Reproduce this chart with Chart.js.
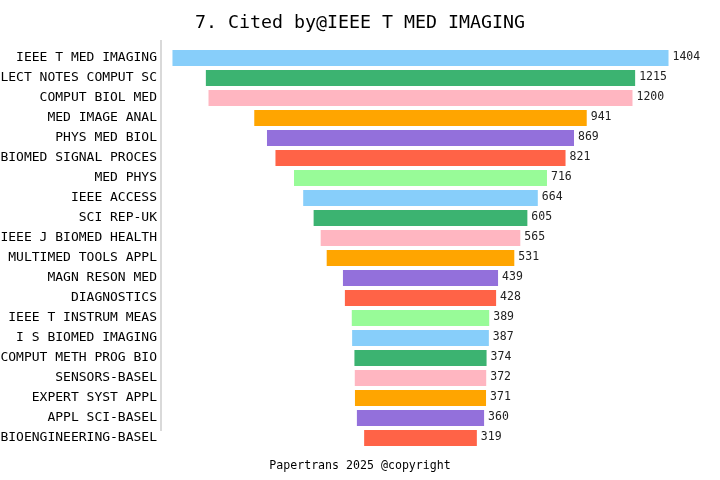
<!DOCTYPE html>
<html>
<head>
<meta charset="utf-8">
<script src="https://cdn.jsdelivr.net/npm/chart.js@4/dist/chart.umd.min.js"></script>
<style>
  html, body { margin: 0; padding: 0; background: #fff; }
  #wrap { width: 720px; height: 480px; }
</style>
</head>
<body>
<div id="wrap"><canvas id="funnel"></canvas></div>
<script>
const journals = [
    'IEEE T MED IMAGING', 'LECT NOTES COMPUT SC', 'COMPUT BIOL MED', 'MED IMAGE ANAL',
    'PHYS MED BIOL', 'BIOMED SIGNAL PROCES', 'MED PHYS', 'IEEE ACCESS', 'SCI REP-UK',
    'IEEE J BIOMED HEALTH', 'MULTIMED TOOLS APPL', 'MAGN RESON MED', 'DIAGNOSTICS',
    'IEEE T INSTRUM MEAS', 'I S BIOMED IMAGING', 'COMPUT METH PROG BIO', 'SENSORS-BASEL',
    'EXPERT SYST APPL', 'APPL SCI-BASEL', 'BIOENGINEERING-BASEL'
];
const citedBy = [1404, 1215, 1200, 941, 869, 821, 716, 664, 605, 565, 531, 439, 428, 389, 387, 374, 372, 371, 360, 319];

const palette = ['#87CEFA', '#3CB371', '#FFB6C1', '#FFA500', '#9370DB', '#FF6347', '#98FB98'];
const mono = "'DejaVu Sans Mono', monospace";

// bars are centred on zero so the chart reads like a funnel
const spans = citedBy.map(v => [-v / 2, v / 2]);

const valueLabels = {
    id: 'valueLabels',
    afterDatasetsDraw(chart) {
        const ctx = chart.ctx;
        const meta = chart.getDatasetMeta(0);
        ctx.save();
        ctx.font = '11.5px ' + mono;
        ctx.fillStyle = '#222';
        ctx.textAlign = 'left';
        ctx.textBaseline = 'middle';
        meta.data.forEach((bar, i) => {
            ctx.fillText(String(citedBy[i]), bar.x + 4, bar.y - 1);
        });
        ctx.restore();
    }
};

const leftSpine = {
    id: 'leftSpine',
    beforeDatasetsDraw(chart) {
        const { ctx, chartArea } = chart;
        ctx.save();
        ctx.strokeStyle = '#d9d9d9';
        ctx.lineWidth = 2;
        ctx.beginPath();
        ctx.moveTo(chartArea.left + 1, chartArea.top - 8);
        ctx.lineTo(chartArea.left + 1, chartArea.bottom - 17);
        ctx.stroke();
        ctx.restore();
    }
};

new Chart(document.getElementById('funnel').getContext('2d'), {
    type: 'bar',
    data: {
        labels: journals,
        datasets: [{
            data: spans,
            backgroundColor: journals.map((_, i) => palette[i % palette.length]),
            borderWidth: 0,
            borderSkipped: false,
            categoryPercentage: 1,
            barPercentage: 0.8
        }]
    },
    options: {
        indexAxis: 'y',
        responsive: true,
        maintainAspectRatio: false,
        animation: false,
        layout: { padding: 0 },
        plugins: {
            legend: { display: false },
            tooltip: { enabled: false },
            title: {
                display: true,
                text: '7. Cited by@IEEE T MED IMAGING',
                color: '#000',
                font: { family: mono, size: 18.3, weight: 'normal' },
                padding: { top: 12, bottom: 14 }
            },
            subtitle: {
                display: true,
                position: 'bottom',
                text: 'Papertrans 2025 @copyright',
                color: '#000',
                font: { family: mono, size: 11.6, weight: 'normal' },
                padding: { top: 11, bottom: 7 }
            }
        },
        scales: {
            x: {
                display: false,
                min: -737.3,
                max: 847.7
            },
            y: {
                afterFit(scale) { scale.width = 160; },
                border: { display: false },
                grid: { display: false, drawTicks: false },
                ticks: {
                    color: '#000',
                    padding: 3,
                    autoSkip: false,
                    font: { family: mono, size: 13 }
                }
            }
        }
    },
    plugins: [leftSpine, valueLabels]
});
</script>
</body>
</html>
